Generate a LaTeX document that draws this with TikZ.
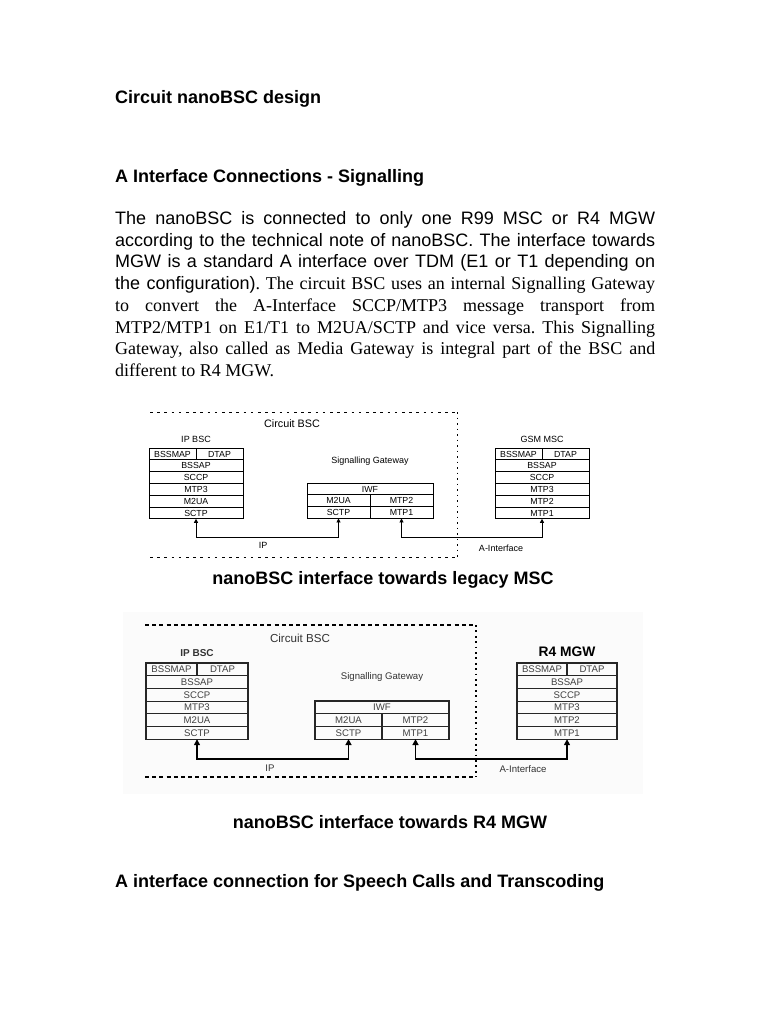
\documentclass[tikz,border=0pt]{standalone}
\usepackage{fontspec}
\setmainfont{Liberation Sans}
\newfontfamily\timesfont{Liberation Serif}
\usetikzlibrary{arrows.meta,positioning}
\frenchspacing

\begin{document}
\begin{tikzpicture}[x=1pt,y=-1pt,
head/.style={inner sep=0pt,anchor=base west,font=\fontsize{18}{21.7}\selectfont\bfseries},
capt/.style={inner sep=0pt,anchor=base,font=\fontsize{18}{21.7}\selectfont\bfseries},
para/.style={inner sep=0pt,anchor=base west,text width=540pt,align=justify,
font=\fontsize{18}{21.7}\selectfont},
cellA/.style={draw,line width=0.7pt,inner sep=0pt,outer sep=0pt,minimum height=11.8pt,
text height=6.2pt,text depth=0pt,font=\fontsize{8.8}{9}\selectfont},
cellB/.style={draw=black!85,line width=1.1pt,inner sep=0pt,outer sep=0pt,minimum height=12.7pt,
text height=6.8pt,text depth=0pt,text=black!75,font=\fontsize{9.6}{10}\selectfont},
lblA/.style={inner sep=0pt,font=\fontsize{9}{10}\selectfont},
lblB/.style={inner sep=0pt,text=black!80,font=\fontsize{9.6}{10}\selectfont},
frameA/.style={line width=0.8pt,dash pattern=on 2.6pt off 4.6pt},
dotA/.style={line width=0.9pt,dash pattern=on 1.5pt off 4pt},
frameB/.style={line width=1.6pt,dash pattern=on 4pt off 3.2pt},
dotB/.style={line width=1.4pt,dash pattern=on 1.8pt off 3.6pt},
linkA/.style={{Triangle[length=4pt,width=4pt]}-{Triangle[length=4pt,width=4pt]},line width=0.7pt},
linkB/.style={{Triangle[length=6pt,width=6pt]}-{Triangle[length=6pt,width=6pt]},line width=1.8pt}
]
\useasboundingbox (0,0) rectangle (768,1024);

% page text
\node[head] (title) at (115,104) {Circuit nanoBSC design};
\node[head] (sighead) at (115,183) {A Interface Connections - Signalling};
\node[para] (body) at (115,224.5) {The nanoBSC is connected to only one R99 MSC or R4 MGW\linebreak
according to the technical note of nanoBSC. The interface towards\linebreak
MGW is a standard A interface over TDM (E1 or T1 depending on\linebreak
the configuration){\timesfont. The circuit BSC uses an internal Signalling Gateway\linebreak
to convert the A-Interface SCCP/MTP3 message transport from\linebreak
MTP2/MTP1 on E1/T1 to M2UA/SCTP and vice versa. This Signalling\linebreak
Gateway, also called as Media Gateway is integral part of the BSC and\linebreak
different to R4 MGW.}};

% legacy MSC figure
\draw[frameA] (150,412) -- (457,412);
\draw[frameA] (150,557) -- (457,557);
\draw[dotA] (457,412) -- (457,557);
\node[lblA,font=\fontsize{10.8}{11}\selectfont] (circ1) at (292,424) {Circuit BSC};

\node[cellA,minimum width=47pt,anchor=north west] (ipmap1) at (149,448) {BSSMAP};
\node[cellA,minimum width=47pt,right=0pt of ipmap1] (ipdtap1) {DTAP};
\node[cellA,minimum width=94pt,below=0pt of ipmap1.south east] (ipbssap1) {BSSAP};
\node[cellA,minimum width=94pt,below=0pt of ipbssap1] (ipsccp1) {SCCP};
\node[cellA,minimum width=94pt,below=0pt of ipsccp1] (ipmtp31) {MTP3};
\node[cellA,minimum width=94pt,below=0pt of ipmtp31] (ipm2ua1) {M2UA};
\node[cellA,minimum width=94pt,below=0pt of ipm2ua1] (ipsctp1) {SCTP};
\node[lblA,above=5pt of ipmap1.north east] (iplbl1) {IP BSC};

\node[cellA,minimum width=126pt,anchor=north west] (iwf1) at (307,483) {IWF};
\node[cellA,minimum width=63pt,below=0pt of iwf1.south west,anchor=north west] (iwm2ua1) {M2UA};
\node[cellA,minimum width=63pt,right=0pt of iwm2ua1] (iwmtp21) {MTP2};
\node[cellA,minimum width=63pt,below=0pt of iwm2ua1] (iwsctp1) {SCTP};
\node[cellA,minimum width=63pt,below=0pt of iwmtp21] (iwmtp11) {MTP1};
\node[lblA,above=17pt of iwf1] (sglbl1) {Signalling Gateway};

\node[cellA,minimum width=47pt,anchor=north west] (mscmap1) at (495,448) {BSSMAP};
\node[cellA,minimum width=47pt,right=0pt of mscmap1] (mscdtap1) {DTAP};
\node[cellA,minimum width=94pt,below=0pt of mscmap1.south east] (mscbssap1) {BSSAP};
\node[cellA,minimum width=94pt,below=0pt of mscbssap1] (mscsccp1) {SCCP};
\node[cellA,minimum width=94pt,below=0pt of mscsccp1] (mscmtp31) {MTP3};
\node[cellA,minimum width=94pt,below=0pt of mscmtp31] (mscmtp21) {MTP2};
\node[cellA,minimum width=94pt,below=0pt of mscmtp21] (mscmtp11) {MTP1};
\node[lblA,above=5pt of mscmap1.north east] (msclbl1) {GSM MSC};

\draw[linkA] (ipsctp1.south) -- ++(0,19) -| (iwsctp1.south);
\draw[linkA] (iwmtp11.south) -- ++(0,18.6) -| (mscmtp11.south);
\node[lblA] (iptxt1) at (263,545) {IP};
\node[lblA] (aitxt1) at (501,548) {A-Interface};

\node[capt] (cap1) at (383,584) {nanoBSC interface towards legacy MSC};

% R4 MGW figure
\fill[black!1.5] (123,612) rectangle (643,794);
\draw[frameB] (145,625) -- (476,625);
\draw[frameB] (145,777) -- (476,777);
\draw[dotB] (476,625) -- (476,777);
\node[lblB,font=\fontsize{11.6}{12}\selectfont] (circ2) at (300,638) {Circuit BSC};

\node[cellB,minimum width=51pt,anchor=north west] (ipmap2) at (146,663) {BSSMAP};
\node[cellB,minimum width=51pt,right=0pt of ipmap2] (ipdtap2) {DTAP};
\node[cellB,minimum width=102pt,below=0pt of ipmap2.south east] (ipbssap2) {BSSAP};
\node[cellB,minimum width=102pt,below=0pt of ipbssap2] (ipsccp2) {SCCP};
\node[cellB,minimum width=102pt,below=0pt of ipsccp2] (ipmtp32) {MTP3};
\node[cellB,minimum width=102pt,below=0pt of ipmtp32] (ipm2ua2) {M2UA};
\node[cellB,minimum width=102pt,below=0pt of ipm2ua2] (ipsctp2) {SCTP};
\node[lblB,font=\fontsize{10}{11}\selectfont\bfseries,above=6pt of ipmap2.north east] (iplbl2) {IP BSC};

\node[cellB,minimum width=134pt,anchor=north west] (iwf2) at (315,701) {IWF};
\node[cellB,minimum width=67pt,below=0pt of iwf2.south west,anchor=north west] (iwm2ua2) {M2UA};
\node[cellB,minimum width=67pt,right=0pt of iwm2ua2] (iwmtp22) {MTP2};
\node[cellB,minimum width=67pt,below=0pt of iwm2ua2] (iwsctp2) {SCTP};
\node[cellB,minimum width=67pt,below=0pt of iwmtp22] (iwmtp12) {MTP1};
\node[lblB,above=19pt of iwf2] (sglbl2) {Signalling Gateway};

\node[cellB,minimum width=50pt,anchor=north west] (mgwmap2) at (517,663) {BSSMAP};
\node[cellB,minimum width=50pt,right=0pt of mgwmap2] (mgwdtap2) {DTAP};
\node[cellB,minimum width=100pt,below=0pt of mgwmap2.south east] (mgwbssap2) {BSSAP};
\node[cellB,minimum width=100pt,below=0pt of mgwbssap2] (mgwsccp2) {SCCP};
\node[cellB,minimum width=100pt,below=0pt of mgwsccp2] (mgwmtp32) {MTP3};
\node[cellB,minimum width=100pt,below=0pt of mgwmtp32] (mgwmtp22) {MTP2};
\node[cellB,minimum width=100pt,below=0pt of mgwmtp22] (mgwmtp12) {MTP1};
\node[inner sep=0pt,font=\fontsize{13.8}{14}\selectfont\bfseries,above=6pt of mgwmap2.north east] (mgwlbl2) {R4 MGW};

\draw[linkB] (ipsctp2.south) -- ++(0,20) -| (iwsctp2.south);
\draw[linkB] (iwmtp12.south) -- ++(0,20) -| (mgwmtp12.south);
\node[lblB] (iptxt2) at (270,768) {IP};
\node[lblB] (aitxt2) at (523,769) {A-Interface};

\node[capt] (cap2) at (390,828) {nanoBSC interface towards R4 MGW};
\node[head] (speech) at (115,887) {A interface connection for Speech Calls and Transcoding};
\end{tikzpicture}
\end{document}
